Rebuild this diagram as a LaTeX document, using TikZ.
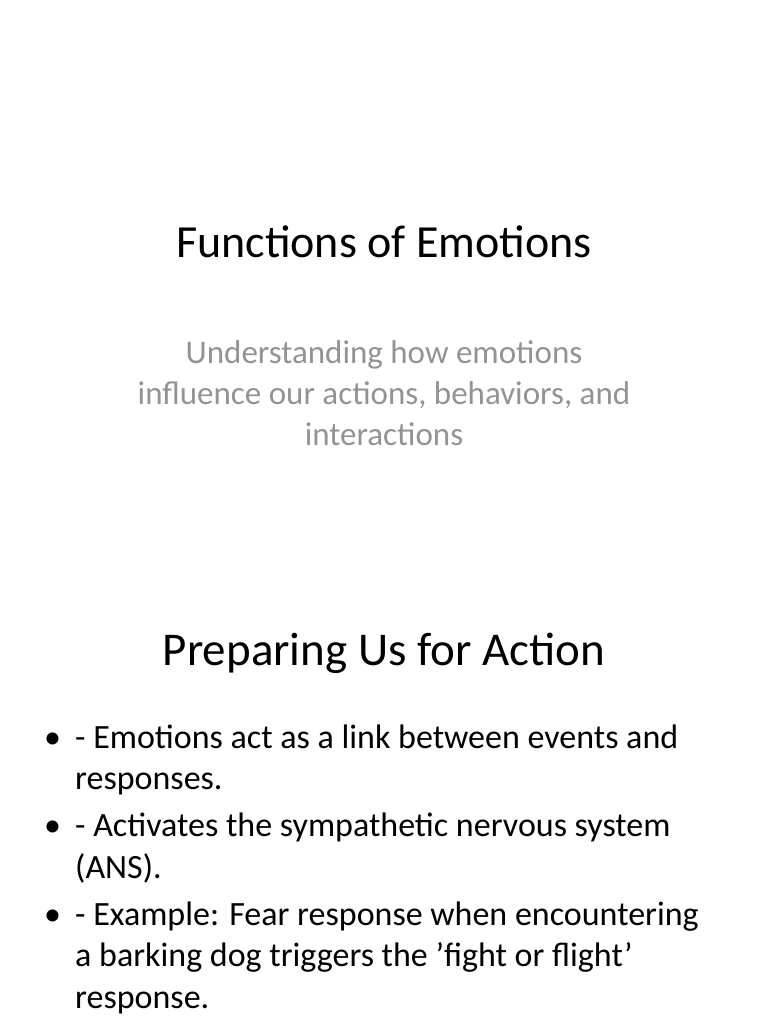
\documentclass[tikz,border=0pt]{standalone}
\usepackage{fontspec}
\setmainfont{Carlito}
\begin{document}
\begin{tikzpicture}[x=1pt,y=-1pt,
  body/.style={anchor=base west,inner sep=0pt,font=\fontsize{34}{40}\selectfont},
  sub/.style={anchor=base,inner sep=0pt,text=gray!85,font=\fontsize{33}{40}\selectfont}]
\useasboundingbox[fill=white] (0,0) rectangle (768,1024);
\node[anchor=base,inner sep=0pt,font=\fontsize{46}{52}\selectfont] (t1) at (384,257) {Functions of Emotions};
\node[sub] (s1) at (384,363) {Understanding how emotions};
\node[sub] (s2) at (384,404) {influence our actions, behaviors, and};
\node[sub] (s3) at (384,445) {interactions};
\node[anchor=base,inner sep=0pt,font=\fontsize{47}{52}\selectfont] (t2) at (384,665) {Preparing Us for Action};
\foreach \y/\t [count=\i] in {748/- Emotions act as a link between events and, 789/responses., 836/- Activates the sympathetic nervous system, 878/(ANS)., 925/- Example: Fear response when encountering, 966/a barking dog triggers the \symbol{39}fight or flight\symbol{39}, 1008/response.}
  \node[body] (l\i) at (75,\y) {\t};
\foreach \y/\n in {748/a,836/b,925/c}
  \node[body] (b\n) at (44,\y) {•};
\end{tikzpicture}
\end{document}
